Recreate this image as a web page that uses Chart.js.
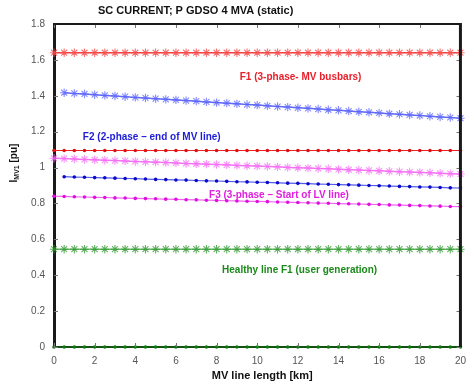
<!DOCTYPE html>
<html>
<head>
<meta charset="utf-8">
<script src="https://cdn.jsdelivr.net/npm/chart.js@4"></script>
<style>
  html, body { margin: 0; padding: 0; background: #fff; }
  #wrap { width: 474px; height: 391px; }
</style>
</head>
<body>
<div id="wrap"><canvas id="chart" width="474" height="391"></canvas></div>
<script>
// --- Data ---
const kmValues = [0, 0.5, 1, 1.5, 2, 2.5, 3, 3.5, 4, 4.5, 5, 5.5, 6, 6.5, 7, 7.5, 8, 8.5, 9, 9.5,
    10, 10.5, 11, 11.5, 12, 12.5, 13, 13.5, 14, 14.5, 15, 15.5, 16, 16.5, 17, 17.5, 18, 18.5, 19, 19.5, 20];

const f1Stars = [1.64, 1.64, 1.64, 1.64, 1.64, 1.64, 1.64, 1.64, 1.64, 1.64, 1.64, 1.64, 1.64, 1.64,
    1.64, 1.64, 1.64, 1.64, 1.64, 1.64, 1.64, 1.64, 1.64, 1.64, 1.64, 1.64, 1.64, 1.64, 1.64, 1.64,
    1.64, 1.64, 1.64, 1.64, 1.64, 1.64, 1.64, 1.64, 1.64, 1.64, 1.64];
const f1Dots = [1.095, 1.095, 1.095, 1.095, 1.095, 1.095, 1.095, 1.095, 1.095, 1.095, 1.095, 1.095,
    1.095, 1.095, 1.095, 1.095, 1.095, 1.095, 1.095, 1.095, 1.095, 1.095, 1.095, 1.095, 1.095, 1.095,
    1.095, 1.095, 1.095, 1.095, 1.095, 1.095, 1.095, 1.095, 1.095, 1.095, 1.095, 1.095, 1.095, 1.095, 1.095];
const f2Stars = [null, 1.417, 1.413, 1.410, 1.406, 1.402, 1.399, 1.395, 1.391, 1.388, 1.384, 1.380,
    1.377, 1.373, 1.370, 1.366, 1.362, 1.359, 1.355, 1.351, 1.348, 1.344, 1.340, 1.337, 1.333, 1.330,
    1.326, 1.322, 1.319, 1.315, 1.311, 1.308, 1.304, 1.300, 1.297, 1.293, 1.290, 1.286, 1.282, 1.279, 1.275];
const f2Dots = [null, 0.949, 0.947, 0.946, 0.944, 0.943, 0.941, 0.939, 0.938, 0.936, 0.934, 0.933,
    0.931, 0.930, 0.928, 0.926, 0.925, 0.923, 0.921, 0.920, 0.918, 0.917, 0.915, 0.913, 0.912, 0.910,
    0.908, 0.907, 0.905, 0.904, 0.902, 0.900, 0.899, 0.897, 0.895, 0.894, 0.892, 0.891, 0.889, 0.887, 0.886];
const f3Stars = [1.052, 1.050, 1.048, 1.045, 1.043, 1.041, 1.039, 1.037, 1.034, 1.032, 1.030, 1.028,
    1.026, 1.023, 1.021, 1.019, 1.017, 1.015, 1.012, 1.010, 1.008, 1.006, 1.004, 1.001, 0.999, 0.997,
    0.995, 0.993, 0.990, 0.988, 0.986, 0.984, 0.982, 0.979, 0.977, 0.975, 0.973, 0.971, 0.968, 0.966, 0.964];
const f3Dots = [0.840, 0.839, 0.837, 0.836, 0.834, 0.833, 0.831, 0.830, 0.828, 0.827, 0.826, 0.824,
    0.823, 0.821, 0.820, 0.818, 0.817, 0.815, 0.814, 0.812, 0.811, 0.810, 0.808, 0.807, 0.805, 0.804,
    0.802, 0.801, 0.799, 0.798, 0.797, 0.795, 0.794, 0.792, 0.791, 0.789, 0.788, 0.786, 0.785, 0.783, 0.782];
const healthyStars = [0.545, 0.545, 0.545, 0.545, 0.545, 0.545, 0.545, 0.545, 0.545, 0.545, 0.545,
    0.545, 0.545, 0.545, 0.545, 0.545, 0.545, 0.545, 0.545, 0.545, 0.545, 0.545, 0.545, 0.545, 0.545,
    0.545, 0.545, 0.545, 0.545, 0.545, 0.545, 0.545, 0.545, 0.545, 0.545, 0.545, 0.545, 0.545, 0.545, 0.545, 0.545];
const healthyDots = [0, 0, 0, 0, 0, 0, 0, 0, 0, 0, 0, 0, 0, 0, 0, 0, 0, 0, 0, 0, 0, 0, 0, 0, 0, 0,
    0, 0, 0, 0, 0, 0, 0, 0, 0, 0, 0, 0, 0, 0, 0];

const xTicks = [0, 2, 4, 6, 8, 10, 12, 14, 16, 18, 20];
const yTicks = [0, 0.2, 0.4, 0.6, 0.8, 1, 1.2, 1.4, 1.6, 1.8];

// text labels placed in data coordinates (left edge, vertical centre)
const seriesLabels = [
    { text: 'F1 (3-phase- MV busbars)', x: 9.14, y: 1.505, color: '#e8202a' },
    { text: 'F2 (2-phase \u2013 end of MV line)', x: 1.42, y: 1.17, color: '#1c1cd8' },
    { text: 'F3 (3-phase \u2013 Start of LV line)', x: 7.63, y: 0.843, color: '#e020e0' },
    { text: 'Healthy line F1 (user generation)', x: 8.27, y: 0.429, color: '#1a8a1a' },
];

const FONT = '"Liberation Sans", Arial, sans-serif';

function toPoints(values) {
    return kmValues.map((x, i) => ({ x, y: values[i] })).filter(p => p.y !== null);
}

function starSet(values, line, marker) {
    return {
        data: toPoints(values),
        borderColor: line,
        borderWidth: 1.5,
        pointStyle: 'star',
        pointRadius: 4.2,
        pointBorderColor: marker,
        pointBackgroundColor: marker,
        pointBorderWidth: 1.1,
        clip: 6,
    };
}

function dotSet(values, line, marker) {
    return {
        data: toPoints(values),
        borderColor: line,
        borderWidth: 1.2,
        pointStyle: 'circle',
        pointRadius: 1.8,
        pointBorderWidth: 0,
        pointBackgroundColor: marker,
        clip: 6,
    };
}

// --- Decorations: titles, inside ticks, frame, text labels ---
const decorPlugin = {
    id: 'decor',
    afterDatasetsDraw(chart) {
        const { ctx, chartArea: a, scales } = chart;
        const xs = scales.x, ys = scales.y;
        ctx.save();

        // inside tick marks
        ctx.strokeStyle = '#777';
        ctx.lineWidth = 1;
        ctx.beginPath();
        yTicks.forEach(v => {
            const py = Math.round(ys.getPixelForValue(v)) + 0.5;
            ctx.moveTo(a.left, py); ctx.lineTo(a.left + 4, py);
            ctx.moveTo(a.right, py); ctx.lineTo(a.right - 4, py);
        });
        xTicks.forEach(v => {
            const px = Math.round(xs.getPixelForValue(v)) + 0.5;
            ctx.moveTo(px, a.bottom); ctx.lineTo(px, a.bottom - 4);
            ctx.moveTo(px, a.top); ctx.lineTo(px, a.top + 4);
        });
        ctx.stroke();

        // frame: top and right spines
        ctx.strokeStyle = '#1a1a1a';
        ctx.lineWidth = 2;
        ctx.beginPath();
        ctx.moveTo(a.left, a.top); ctx.lineTo(a.right, a.top);
        ctx.stroke();
        ctx.lineWidth = 3;
        ctx.beginPath();
        ctx.moveTo(a.right, a.top - 1); ctx.lineTo(a.right, a.bottom);
        ctx.stroke();

        // series labels
        ctx.font = 'bold 10px ' + FONT;
        ctx.textAlign = 'left';
        ctx.textBaseline = 'middle';
        seriesLabels.forEach(l => {
            ctx.fillStyle = l.color;
            ctx.fillText(l.text, xs.getPixelForValue(l.x), ys.getPixelForValue(l.y));
        });

        // title
        ctx.fillStyle = '#111';
        ctx.textAlign = 'left';
        ctx.font = 'bold 11px ' + FONT;
        ctx.fillText('SC CURRENT; P GDSO 4 MVA (static)', 98, 11);

        // x axis title
        ctx.textAlign = 'center';
        ctx.fillText('MV line length [km]', (a.left + a.right) / 2 + 5, 376);

        // y axis title with subscript
        ctx.translate(14, 163);
        ctx.rotate(-Math.PI / 2);
        const big = 'bold 10px ' + FONT, small = 'bold 7px ' + FONT;
        ctx.font = big;
        const wI = ctx.measureText('I').width;
        const wRest = ctx.measureText(' [pu]').width;
        ctx.font = small;
        const wSub = ctx.measureText('MV1').width;
        let x0 = -(wI + wSub + wRest) / 2;
        ctx.textAlign = 'left';
        ctx.font = big;
        ctx.fillText('I', x0, 0);
        ctx.font = small;
        ctx.fillText('MV1', x0 + wI, 3);
        ctx.font = big;
        ctx.fillText(' [pu]', x0 + wI + wSub, 0);
        ctx.restore();
    }
};

new Chart(document.getElementById('chart'), {
    type: 'line',
    data: {
        datasets: [
            starSet(f1Stars, 'rgba(240,40,40,0.9)', 'rgba(248,80,80,0.8)'),
            dotSet(f1Dots, '#ee2222', '#dd1111'),
            starSet(f2Stars, 'rgba(50,60,235,0.75)', 'rgba(90,100,255,0.75)'),
            dotSet(f2Dots, 'rgba(40,50,230,0.8)', '#0a0ac8'),
            starSet(f3Stars, 'rgba(240,60,240,0.7)', 'rgba(245,110,245,0.75)'),
            dotSet(f3Dots, 'rgba(240,60,240,0.8)', '#e010e0'),
            starSet(healthyStars, 'rgba(40,160,40,0.7)', 'rgba(50,150,50,0.75)'),
            dotSet(healthyDots, '#118811', '#0a7a0a'),
        ]
    },
    options: {
        responsive: false,
        animation: false,
        events: [],
        layout: { padding: { top: 24, right: 11, left: 0, bottom: 0 } },
        plugins: {
            legend: { display: false },
            title: { display: false },
            tooltip: { enabled: false },
        },
        scales: {
            x: {
                type: 'linear',
                min: 0,
                max: 20,
                afterFit: s => { s.height = 44; },
                afterBuildTicks: s => { s.ticks = xTicks.map(v => ({ value: v })); },
                grid: { display: false, drawTicks: false },
                border: { display: true, color: '#1a1a1a', width: 2 },
                ticks: { color: '#555', font: { family: FONT, size: 10 }, padding: 8, maxRotation: 0 },
            },
            y: {
                type: 'linear',
                min: 0,
                max: 1.8,
                afterFit: s => { s.width = 54; },
                afterBuildTicks: s => { s.ticks = yTicks.map(v => ({ value: v })); },
                grid: { display: false, drawTicks: false },
                border: { display: true, color: '#1a1a1a', width: 3 },
                ticks: {
                    color: '#555',
                    font: { family: FONT, size: 10 },
                    padding: 9,
                    callback: v => String(Number(v.toFixed(1))),
                },
            },
        },
    },
    plugins: [decorPlugin],
});
</script>
</body>
</html>
